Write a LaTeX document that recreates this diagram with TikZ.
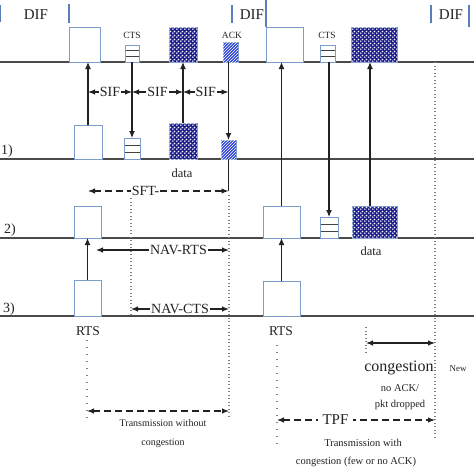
\documentclass[tikz,border=0pt]{standalone}
\usepackage{fontspec}
\setmainfont{Liberation Serif}
\usetikzlibrary{arrows.meta,patterns,patterns.meta,calc}

\definecolor{boxblue}{HTML}{7D9BCB}
\definecolor{barblue}{HTML}{5B7DB8}
\definecolor{navy}{HTML}{1C1C8E}
\definecolor{ackblue}{HTML}{2E45D8}
\definecolor{linegray}{HTML}{4A4A4A}
\definecolor{ink}{HTML}{222222}
\definecolor{dotgray}{HTML}{808080}

\tikzdeclarepattern{name=wdots, type=uncolored,
  bounding box={(0pt,0pt) and (4pt,4pt)},
  tile size={(4pt,4pt)},
  code={\fill (1pt,1pt) circle (1.05pt); \fill (3pt,3pt) circle (1.05pt);}}

\begin{document}
\begin{tikzpicture}[x=1pt,y=-1pt,
  box/.style={draw=boxblue, line width=0.9pt, fill=white, inner sep=0pt, outer sep=0pt, anchor=south west},
  datab/.style={box, fill=navy, postaction={pattern=wdots, pattern color=white}},
  ackb/.style={box, fill=ackblue, postaction={pattern=north east lines, pattern color=white}},
  ctsb/.style={box, path picture={
     \draw[ink!85, line width=0.9pt] ($(path picture bounding box.south west)!.33!(path picture bounding box.north west)$) -- ($(path picture bounding box.south east)!.33!(path picture bounding box.north east)$);
     \draw[ink!85, line width=0.9pt] ($(path picture bounding box.south west)!.66!(path picture bounding box.north west)$) -- ($(path picture bounding box.south east)!.66!(path picture bounding box.north east)$);}},
  hline/.style={draw=linegray, line width=1.4pt},
  bar/.style={draw=barblue, line width=1.8pt},
  arr/.style={draw=ink, line width=1.2pt, -{Latex[length=7pt,width=6pt]}},
  darr/.style={draw=ink, line width=1.1pt, {Latex[length=7pt,width=5.5pt]}-{Latex[length=7pt,width=5.5pt]}},
  ddarr/.style={darr, dash pattern=on 7pt off 4pt},
  plain/.style={draw=ink, line width=1.2pt},
  dense/.style={draw=dotgray, line width=1.2pt, dash pattern=on 1pt off 2.5pt},
  sparse/.style={draw=dotgray, line width=1.5pt, dash pattern=on 1.3pt off 5.7pt},
  lbl/.style={text=ink, inner sep=1pt, fill=white},
  txt/.style={text=ink, inner sep=0pt},
]
\useasboundingbox (0,0) rectangle (474,474);

% horizontal time lines
\coordinate (L0w) at (0,62);  \coordinate (L0e) at (474,62);
\coordinate (L1w) at (0,159); \coordinate (L1e) at (474,159);
\coordinate (L2w) at (0,238); \coordinate (L2e) at (474,238);
\coordinate (L3w) at (0,316); \coordinate (L3e) at (474,316);
\draw[hline] (L0w) -- (L0e);
\draw[hline] (L1w) -- (L1e);
\draw[hline] (L2w) -- (L2e);
\draw[hline] (L3w) -- (L3e);

% DIF markers
\draw[bar] (0,5) -- (0,22);
\draw[bar] (69,4) -- (69,23);
\draw[bar] (232,5) -- (232,23);
\draw[bar] (266,0) -- (266,27);
\draw[bar] (431,5) -- (431,23);
\draw[bar] (469,5) -- (469,27);
\node[txt, font=\fontsize{15}{17}\selectfont] (dif1) at (36,15) {DIF};
\node[txt, font=\fontsize{15}{17}\selectfont] (dif2) at (252,15) {DIF};
\node[txt, font=\fontsize{15}{17}\selectfont] (dif3) at (451,15) {DIF};

% line labels
\node[txt, anchor=east, font=\fontsize{14}{16}\selectfont] (n1) at (13,151) {1)};
\node[txt, anchor=east, font=\fontsize{14}{16}\selectfont] (n2) at (16,230) {2)};
\node[txt, anchor=east, font=\fontsize{14}{16}\selectfont] (n3) at (15,309) {3)};

% row 0 frames
\node[box, minimum width=31pt, minimum height=35pt] (a0) at (69,62) {};
\node[ctsb, minimum width=14pt, minimum height=17pt] (c0) at (125,62) {};
\node[datab, minimum width=28pt, minimum height=35pt] (d0) at (169,62) {};
\node[ackb, minimum width=15pt, minimum height=20pt] (k0) at (223,62) {};
\node[box, minimum width=37pt, minimum height=35pt] (a0r) at (266,62) {};
\node[ctsb, minimum width=15pt, minimum height=17pt] (c0r) at (320,62) {};
\node[datab, minimum width=46pt, minimum height=35pt] (d0r) at (351,62) {};
\node[txt, font=\fontsize{9.5}{10}\selectfont] (tc0) at (132,35) {CTS};
\node[txt, font=\fontsize{9.5}{10}\selectfont] (tk0) at (232,35) {ACK};
\node[txt, font=\fontsize{9.5}{10}\selectfont] (tc0r) at (327,35) {CTS};

% row 1 frames
\node[box, minimum width=28pt, minimum height=34pt] (a1) at (74,159) {};
\node[ctsb, minimum width=16pt, minimum height=21pt] (c1) at (124,159) {};
\node[datab, minimum width=28pt, minimum height=36pt] (d1) at (169,159) {};
\node[ackb, minimum width=15pt, minimum height=19pt] (k1) at (221,159) {};
\node[txt, font=\fontsize{12.5}{14}\selectfont] (td1) at (182,173) {data};

% row 2 frames
\node[box, minimum width=27pt, minimum height=32pt] (a2) at (74,238) {};
\node[box, minimum width=37pt, minimum height=32pt] (a2r) at (263,238) {};
\node[ctsb, minimum width=18pt, minimum height=21pt] (c2r) at (320,238) {};
\node[datab, minimum width=45pt, minimum height=32pt] (d2r) at (352,238) {};
\node[txt, font=\fontsize{12.5}{14}\selectfont] (td2r) at (371,251) {data};

% row 3 frames
\node[box, minimum width=27pt, minimum height=36pt] (a3) at (74,316) {};
\node[box, minimum width=37pt, minimum height=35pt] (a3r) at (263,316) {};
\node[txt, font=\fontsize{13.5}{15}\selectfont] (tr3) at (88,331) {RTS};
\node[txt, font=\fontsize{13.5}{15}\selectfont] (tr3r) at (281,331) {RTS};

% vertical arrows, left exchange
\draw[arr] (a1.north) -- (a1.north |- L0w);
\draw[arr] (c1.north |- L0w) -- (c1.north);
\draw[arr] (d1.north) -- (d1.north |- L0w);
\draw[arr] (k1.north |- L0w) -- (k1.north);
\coordinate (sftR) at (228.5,191);
\draw[plain] (k1.north |- L1w) -- (sftR);
\draw[arr] (a3.north) -- (a3.north |- L2w);

% vertical arrows, right exchange
\draw[arr] (a2r.north) -- (a2r.north |- L0w);
\draw[arr] (c2r.north |- L0w) -- (c2r.north);
\coordinate (d2top) at ($(d2r.north)+(-4.5,0)$);
\draw[arr] (d2top) -- (d2top |- L0w);
\draw[arr] (a3r.north) -- (a3r.north |- L2w);

% SIF intervals
\coordinate (sif) at (0,92);
\draw[darr] (a1.north |- sif) -- (c1.north |- sif) node[lbl, midway, font=\fontsize{14}{16}\selectfont] {SIF};
\draw[darr] (c1.north |- sif) -- (d1.north |- sif) node[lbl, midway, font=\fontsize{14}{16}\selectfont] {SIF};
\draw[darr] (d1.north |- sif) -- (k1.north |- sif) node[lbl, midway, font=\fontsize{14}{16}\selectfont] {SIF};

% SFT
\coordinate (sftL) at (88,191);
\draw[ddarr] (sftL) -- (sftR) node[lbl, pos=0.41, font=\fontsize{14}{16}\selectfont] {SFT-};

% dotted guides
\coordinate (g1t) at (131,198); \coordinate (g1b) at (131,316);
\draw[dense] (g1t) -- (g1b);
\coordinate (g2t) at (229,195); \coordinate (g2b) at (229,418);
\draw[dense] (g2t) -- (g2b);
\coordinate (g3t) at (87,340); \coordinate (g3b) at (87,418);
\draw[sparse] (g3t) -- (g3b);
\coordinate (g4t) at (277,345); \coordinate (g4b) at (277,446);
\draw[sparse] (g4t) -- (g4b);
\coordinate (g5t) at (435,62); \coordinate (g5b) at (435,437);
\draw[dense] (g5t) -- (g5b);
\coordinate (g6t) at (366,327); \coordinate (g6b) at (366,355);
\draw[dense] (g6t) -- (g6b);

% NAV
\coordinate (navrL) at (96,250); \coordinate (navrR) at (229,250);
\draw[darr] (navrL) -- (navrR) node[lbl, pos=0.62, font=\fontsize{14}{16}\selectfont] {NAV-RTS};
\coordinate (navcL) at (131,309); \coordinate (navcR) at (229,309);
\draw[darr] (navcL) -- (navcR) node[lbl, pos=0.5, font=\fontsize{14}{16}\selectfont] {NAV-CTS};

% transmission without congestion
\coordinate (twL) at (87,411); \coordinate (twR) at (229,411);
\draw[ddarr] (twL) -- (twR);
\node[txt, font=\fontsize{10}{12}\selectfont] (tw1) at (163,423) {Transmission without};
\node[txt, font=\fontsize{10}{12}\selectfont] (tw2) at (163,443) {congestion};

% congestion
\coordinate (cgL) at (366,343); \coordinate (cgR) at (435,343);
\draw[darr] (cgL) -- (cgR);
\node[txt, font=\fontsize{16}{18}\selectfont] (cg) at (399,368) {congestion};
\node[txt, font=\fontsize{9}{10}\selectfont] (nw) at (458,369) {New};
\node[txt, font=\fontsize{10.5}{12}\selectfont] (na1) at (400,388) {no ACK/};
\node[txt, font=\fontsize{10.5}{12}\selectfont] (na2) at (400,405) {pkt dropped};

% TPF
\coordinate (tpL) at (277,420); \coordinate (tpR) at (435,420);
\draw[ddarr] (tpL) -- (tpR) node[lbl, pos=0.37, inner xsep=5pt, font=\fontsize{15}{17}\selectfont] {TPF};
\node[txt, font=\fontsize{10.5}{12}\selectfont] (tt1) at (363,443) {Transmission with};
\node[txt, font=\fontsize{10.5}{12}\selectfont] (tt2) at (356,462) {congestion (few or no ACK)};
\end{tikzpicture}
\end{document}
